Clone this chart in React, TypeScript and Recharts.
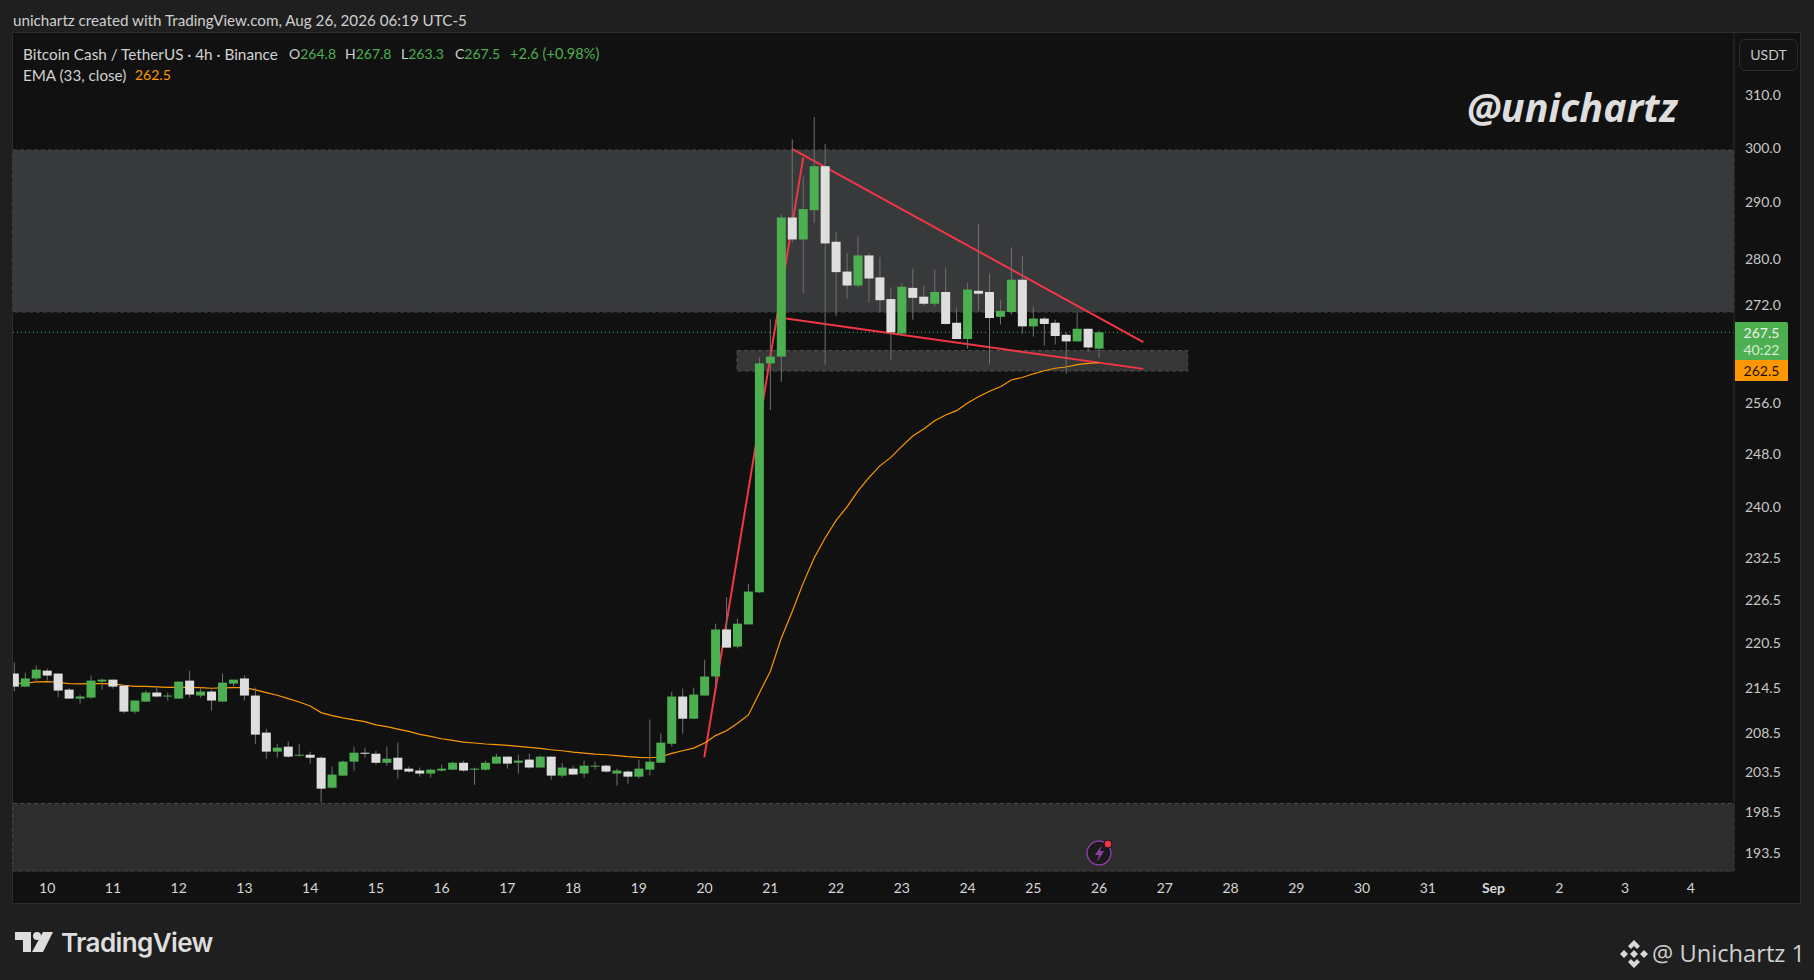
import {
    Bar,
    ComposedChart,
    Line,
    ReferenceArea,
    ReferenceLine,
    XAxis,
    YAxis,
} from "recharts";

const opens = [
    216.39, 214.64, 215.73, 216.78, 216.39, 214.24, 213.05, 213.18, 215.31, 215.57,
    214.77, 211.33, 212.65, 213.85, 213.32, 213.05, 215.44, 213.45, 213.98, 212.65,
    215.04, 215.73, 213.45, 208.59, 206.14, 206.78, 205.63, 205.74, 205.36, 201.57,
    203.09, 204.86, 206.0, 205.87, 204.72, 205.36, 203.97, 203.73, 203.35, 203.73,
    203.84, 204.72, 203.84, 203.84, 204.61, 205.5, 204.72, 205.12, 204.11, 205.5,
    203.09, 203.97, 203.35, 204.24, 204.35, 203.35, 203.6, 202.96, 203.84, 204.72,
    207.15, 213.32, 210.4, 213.45, 216.0, 222.4, 220.05, 223.1, 227.6, 262.4,
    263.5, 287.3, 283.4, 288.6, 296.6, 283.0, 277.8, 275.4, 280.6, 276.8,
    273.1, 267.3, 275.0, 273.5, 272.3, 274.3, 269.1, 266.4, 274.5, 274.3,
    270.1, 270.9, 276.4, 268.5, 269.8, 269.1, 267.1, 266.0, 268.1, 264.8,
];
const highs = [
    217.87, 216.52, 217.47, 217.05, 216.39, 214.42, 213.58, 216.12, 215.73, 215.57,
    214.77, 212.79, 214.11, 214.64, 213.85, 215.31, 216.78, 214.55, 214.24, 216.39,
    215.57, 216.12, 214.51, 209.1, 207.15, 207.42, 207.15, 206.14, 205.5, 204.24,
    204.99, 206.78, 206.65, 206.25, 206.78, 207.29, 204.24, 204.11, 203.97, 204.48,
    204.86, 204.99, 204.11, 204.99, 205.87, 205.5, 205.74, 205.87, 205.63, 205.5,
    204.72, 204.35, 204.99, 204.86, 204.48, 203.97, 203.73, 205.12, 210.29, 208.46,
    213.98, 214.38, 214.51, 218.27, 223.2, 226.9, 223.9, 228.8, 263.4, 269.7,
    287.9, 301.6, 294.7, 305.8, 300.7, 284.8, 281.0, 283.9, 281.0, 280.3,
    275.1, 275.8, 278.3, 275.4, 278.1, 278.5, 271.6, 275.9, 286.2, 277.4,
    273.0, 282.0, 280.6, 271.8, 270.1, 269.6, 267.5, 270.9, 268.1, 267.8,
];
const lows = [
    214.03, 214.55, 215.44, 215.44, 213.23, 213.05, 212.39, 213.05, 214.24, 214.38,
    211.07, 211.07, 212.65, 213.18, 212.79, 213.05, 213.18, 213.18, 211.46, 212.65,
    214.64, 212.79, 207.15, 205.23, 205.36, 205.36, 205.5, 204.61, 199.71, 201.45,
    203.09, 203.73, 205.36, 204.48, 204.35, 202.72, 203.46, 202.96, 202.83, 203.6,
    203.84, 203.6, 201.94, 203.73, 204.61, 203.97, 203.35, 203.97, 204.11, 202.58,
    202.83, 203.22, 202.83, 203.84, 203.46, 201.83, 202.07, 202.72, 203.09, 204.72,
    206.78, 208.46, 210.4, 213.45, 214.7, 219.9, 219.8, 223.1, 227.5, 254.9,
    259.4, 282.9, 274.0, 286.3, 262.2, 270.2, 273.2, 275.1, 272.5, 270.8,
    262.9, 267.0, 269.6, 272.0, 271.8, 268.8, 266.4, 264.8, 271.1, 262.2,
    268.8, 270.5, 267.3, 266.8, 265.3, 265.5, 260.7, 266.0, 264.3, 263.3,
];
const closes = [
    214.64, 215.73, 216.92, 216.12, 214.11, 213.05, 213.32, 215.44, 215.57, 214.64,
    211.33, 212.79, 213.85, 213.32, 213.45, 215.31, 213.58, 213.98, 212.79, 215.17,
    215.57, 213.45, 208.33, 206.14, 206.65, 205.5, 205.74, 205.36, 201.45, 203.22,
    204.86, 206.0, 205.87, 204.72, 205.23, 203.84, 203.6, 203.35, 203.84, 203.97,
    204.72, 203.73, 203.97, 204.72, 205.5, 204.61, 204.99, 204.11, 205.5, 203.09,
    204.11, 203.22, 204.35, 204.35, 203.6, 203.73, 202.96, 203.97, 204.86, 207.29,
    213.32, 210.4, 213.58, 215.99, 222.4, 219.9, 223.2, 227.7, 262.4, 263.5,
    287.3, 283.4, 288.8, 296.6, 282.7, 277.7, 275.4, 280.6, 276.6, 272.9,
    267.5, 275.2, 273.3, 272.3, 274.3, 268.9, 266.4, 274.7, 274.0, 269.9,
    271.1, 276.4, 268.5, 269.8, 268.9, 266.9, 266.0, 268.1, 265.0, 267.5,
];
const emaValues = [
    215.09, 215.09, 215.27, 215.31, 215.22, 215.04, 215.0, 215.04, 215.04, 215.0,
    214.82, 214.68, 214.68, 214.6, 214.55, 214.55, 214.55, 214.51, 214.42, 214.46,
    214.51, 214.51, 214.2, 213.85, 213.49, 213.05, 212.6, 212.07, 211.2, 210.81,
    210.5, 210.24, 210.02, 209.59, 209.37, 209.05, 208.75, 208.37, 208.11, 207.8,
    207.59, 207.37, 207.25, 207.12, 207.03, 206.94, 206.82, 206.68, 206.55, 206.38,
    206.25, 206.08, 205.95, 205.82, 205.74, 205.63, 205.5, 205.41, 205.36, 205.45,
    205.91, 206.25, 206.59, 207.25, 208.2, 208.84, 209.8, 210.9, 213.8, 216.7,
    221.2, 224.9, 228.9, 232.5, 235.4, 238.0, 240.0, 242.4, 244.4, 246.2,
    247.5, 249.2, 250.8, 251.9, 253.2, 254.1, 254.8, 256.0, 257.0, 257.9,
    258.6, 259.7, 260.1, 260.7, 261.2, 261.6, 261.8, 262.2, 262.4, 262.5,
];

const priceTicks = [310, 300, 290, 280, 272, 256, 248, 240, 232.5, 226.5, 220.5, 214.5, 208.5, 203.5, 198.5, 193.5];
const dayTicks = [3, 9, 15, 21, 27, 33, 39, 45, 51, 57, 63, 69, 75, 81, 87, 93, 99, 105, 111, 117, 123, 129, 135, 141, 147, 153];
const dayLabels = ["10", "11", "12", "13", "14", "15", "16", "17", "18", "19", "20", "21", "22", "23", "24", "25", "26", "27", "28", "29", "30", "31", "Sep", "2", "3", "4"];

const riseLine = [{ i: 62.97, price: 205.4 }, { i: 72, price: 298.2 }];
const upperLine = [{ i: 70.98, price: 299.8 }, { i: 103.04, price: 265.9 }];
const lowerLine = [{ i: 70.43, price: 269.8 }, { i: 103.04, price: 261.5 }];

const candles = opens.map((open, k) => ({
    i: k,
    open,
    high: highs[k],
    low: lows[k],
    close: closes[k],
    ema: emaValues[k],
}));

const UI_FONT = "Lato, Roboto, sans-serif";
const GREEN = "#4caf50";
const WHITE = "#dedede";
const ORANGE = "#ff9800";
const RED = "#f23645";
const LINE = "#2e2e2e";
const X_DOMAIN = [-0.12, 156.95];

function WickShape(props: any) {
    return <rect x={props.x + props.width / 2 - 0.5} y={props.y} width={1} height={props.height} fill="#707070" />;
}

function BodyShape(props: any) {
    const up = props.payload.close >= props.payload.open;
    return <rect x={props.x} y={props.y} width={props.width} height={Math.max(props.height, 1)} fill={up ? GREEN : WHITE} />;
}

function DayTick(props: any) {
    const label = dayLabels[dayTicks.indexOf(props.payload.value)];
    return (
        <text
            x={props.x}
            y={893}
            textAnchor="middle"
            fill="#d6d6d6"
            fontFamily={UI_FONT}
            fontSize={14}
            fontWeight={label === "Sep" ? 700 : 400}
        >
            {label}
        </text>
    );
}

function Label(props: { x: number; y: number; color?: string; size?: number; children: any; style?: any }) {
    return (
        <div
            style={{
                position: "absolute",
                left: props.x,
                top: props.y,
                color: props.color ?? "#d1d1d1",
                fontFamily: UI_FONT,
                fontSize: props.size ?? 14,
                lineHeight: "20px",
                whiteSpace: "nowrap",
                ...props.style,
            }}
        >
            {props.children}
        </div>
    );
}

export default function App() {
    return (
        <div style={{ position: "absolute", left: 0, top: 0, width: 1814, height: 980, background: "#1f1f1f", overflow: "hidden" }}>
            <div
                style={{
                    position: "absolute",
                    left: 12,
                    top: 32,
                    width: 1789,
                    height: 872,
                    background: "#111111",
                    border: `1px solid ${LINE}`,
                    boxSizing: "border-box",
                }}
            />
            <ComposedChart
                width={1814}
                height={980}
                data={candles}
                margin={{ top: 33, right: 13, bottom: 76, left: 13 }}
                style={{ position: "absolute", left: 0, top: 0 }}
            >
                <XAxis
                    xAxisId="time"
                    type="number"
                    dataKey="i"
                    domain={X_DOMAIN}
                    allowDataOverflow
                    ticks={dayTicks}
                    interval={0}
                    height={33}
                    axisLine={{ stroke: LINE }}
                    tickLine={false}
                    tick={<DayTick />}
                />
                <XAxis xAxisId="wick" type="number" dataKey="i" domain={X_DOMAIN} allowDataOverflow ticks={dayTicks} hide />
                {/* the trend lines carry their own data, so they need an axis of their own */}
                <XAxis xAxisId="trend" type="number" dataKey="i" domain={X_DOMAIN} allowDataOverflow hide />
                <YAxis
                    orientation="right"
                    scale="log"
                    domain={[191.4, 322.2]}
                    allowDataOverflow
                    ticks={priceTicks}
                    interval={0}
                    width={67}
                    axisLine={{ stroke: LINE }}
                    tickLine={false}
                    tickSize={0}
                    tickMargin={11}
                    tickFormatter={(v: number) => v.toFixed(1)}
                    tick={{ fill: "#c8c8c8", fontSize: 14, fontFamily: UI_FONT }}
                />
                <ReferenceArea xAxisId="time" y1={270.9} y2={299.6} fill="#38393b" fillOpacity={1} stroke="#48494b" strokeDasharray="4 3" />
                <ReferenceArea xAxisId="time" y1={191.4} y2={199.6} fill="#2d2d2d" fillOpacity={1} stroke="#4a4a4a" strokeDasharray="4 3" />
                <ReferenceArea xAxisId="time" x1={65.96} x2={107.1} y1={261.15} y2={264.5} fill="#363636" fillOpacity={1} stroke="#4e4e4e" strokeDasharray="4 3" />
                <ReferenceLine xAxisId="time" y={267.5} stroke={GREEN} strokeDasharray="1 3" zIndex={250} />
                <Line xAxisId="trend" data={riseLine} dataKey="price" stroke={RED} strokeWidth={2} dot={false} activeDot={false} isAnimationActive={false} zIndex={260} />
                <Line xAxisId="trend" data={upperLine} dataKey="price" stroke={RED} strokeWidth={2} dot={false} activeDot={false} isAnimationActive={false} zIndex={260} />
                <Line xAxisId="trend" data={lowerLine} dataKey="price" stroke={RED} strokeWidth={2} dot={false} activeDot={false} isAnimationActive={false} zIndex={260} />
                <Line xAxisId="time" dataKey="ema" stroke={ORANGE} strokeWidth={1.2} dot={false} activeDot={false} isAnimationActive={false} zIndex={260} />
                <Bar
                    xAxisId="wick"
                    dataKey={(d: any) => [d.low, d.high]}
                    barSize={9}
                    shape={<WickShape />}
                    isAnimationActive={false}
                    zIndex={300}
                />
                <Bar
                    xAxisId="time"
                    dataKey={(d: any) => [Math.min(d.open, d.close), Math.max(d.open, d.close)]}
                    barSize={9}
                    shape={<BodyShape />}
                    isAnimationActive={false}
                    zIndex={310}
                />
            </ComposedChart>

            <Label x={13} y={10} color="#cfcfcf" size={15.2}>unichartz created with TradingView.com, Aug 26, 2026 06:19 UTC-5</Label>

            <Label x={23} y={44} size={15.3}>Bitcoin Cash / TetherUS · 4h · Binance</Label>
            <Label x={289} y={44}>O<span style={{ color: GREEN }}>264.8</span></Label>
            <Label x={345} y={44}>H<span style={{ color: GREEN }}>267.8</span></Label>
            <Label x={401} y={44}>L<span style={{ color: GREEN }}>263.3</span></Label>
            <Label x={455} y={44}>C<span style={{ color: GREEN }}>267.5</span></Label>
            <Label x={510} y={44} color={GREEN} size={14.6}>+2.6 (+0.98%)</Label>
            <Label x={23} y={65} size={15.2}>EMA (33, close)</Label>
            <Label x={135} y={65} color={ORANGE}>262.5</Label>

            <Label x={1467} y={84} color="#dedede" size={39.5} style={{ fontFamily: "'Open Sans', sans-serif", fontWeight: 700, fontStyle: "italic", lineHeight: "46px" }}>
                @unichartz
            </Label>

            <div
                style={{
                    position: "absolute",
                    left: 1739,
                    top: 39,
                    width: 59,
                    height: 32,
                    boxSizing: "border-box",
                    border: "1px solid #2c2c2c",
                    borderRadius: 6,
                    background: "#131313",
                    color: "#c8c8c8",
                    fontFamily: UI_FONT,
                    fontSize: 14,
                    lineHeight: "30px",
                    textAlign: "center",
                }}
            >
                USDT
            </div>

            <div
                style={{
                    position: "absolute",
                    left: 1735,
                    top: 322,
                    width: 53,
                    height: 38,
                    background: GREEN,
                    borderRadius: "0 2px 0 0",
                    fontFamily: UI_FONT,
                    fontSize: 14,
                    lineHeight: "17px",
                    textAlign: "center",
                    paddingTop: 2,
                    boxSizing: "border-box",
                    color: "#f0f0f0",
                }}
            >
                267.5
                <br />
                <span style={{ color: "#d8ecd8" }}>40:22</span>
            </div>
            <div
                style={{
                    position: "absolute",
                    left: 1735,
                    top: 360,
                    width: 53,
                    height: 21,
                    background: ORANGE,
                    fontFamily: UI_FONT,
                    fontSize: 14,
                    lineHeight: "21px",
                    textAlign: "center",
                    color: "#1a1200",
                }}
            >
                262.5
            </div>

            <svg width={30} height={32} style={{ position: "absolute", left: 1085, top: 838 }}>
                <circle cx={14} cy={15} r={13} fill="#1b1b1b" />
                <circle cx={14} cy={15} r={12} fill="none" stroke="#8e3fa8" strokeWidth={1.5} />
                <path d="M17 7 L10 17 H14 L12 24 L19 13 H15 Z" fill="#8e3fa8" />
                <circle cx={23} cy={6} r={4} fill="#f23645" stroke="#111" strokeWidth={1} />
            </svg>

            <svg width={40} height={22} style={{ position: "absolute", left: 15, top: 931 }}>
                <path d="M0 1 H16 V21 H8 V9 H0 Z" fill="#dedede" />
                <circle cx={22} cy={5} r={4} fill="#dedede" />
                <path d="M28 1 H38 L28 21 H17 Z" fill="#dedede" />
            </svg>
            <Label x={61} y={927} color="#dedede" size={26} style={{ fontFamily: "Inter, sans-serif", fontWeight: 600, lineHeight: "32px", letterSpacing: -0.6 }}>
                TradingView
            </Label>

            <svg width={30} height={30} viewBox="0 0 30 30" style={{ position: "absolute", left: 1619, top: 939 }}>
                <path d="M15 1 L21 7 L18 10 L15 7 L12 10 L9 7 Z" fill="#d8d8d8" />
                <path d="M15 29 L21 23 L18 20 L15 23 L12 20 L9 23 Z" fill="#d8d8d8" />
                <path d="M15 11 L19 15 L15 19 L11 15 Z" fill="#d8d8d8" />
                <path d="M5 11 L9 15 L5 19 L1 15 Z" fill="#d8d8d8" />
                <path d="M25 11 L29 15 L25 19 L21 15 Z" fill="#d8d8d8" />
            </svg>
            <Label x={1652} y={937} color="#cfcfcf" size={23.7} style={{ fontFamily: "'Open Sans', sans-serif", lineHeight: "32px" }}>
                @ Unichartz 1
            </Label>
        </div>
    );
}
